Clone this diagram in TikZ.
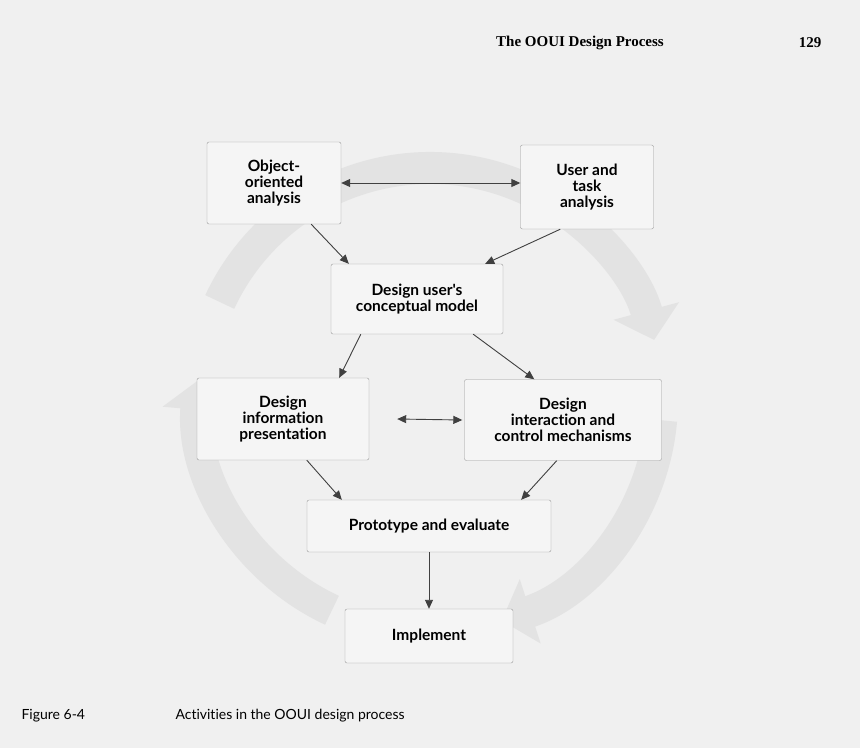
\documentclass[tikz,border=0pt]{standalone}
\usepackage{fontspec}
\setmainfont{Liberation Serif}
\newfontfamily\boxfont[Ligatures=NoCommon]{Lato}
\usetikzlibrary{arrows.meta}
\begin{document}
\begin{tikzpicture}[x=1pt,y=-1pt,
  box/.style={draw=black!40,fill=white!96!black,rounded corners=2pt,align=center,
    font=\boxfont\bfseries\fontsize{15.5}{16}\selectfont,inner sep=0pt},
  conn/.style={draw=black!75,line width=0.9pt,-{Triangle[length=9pt,width=8pt]}},
  both/.style={draw=black!75,line width=0.9pt,{Triangle[length=9pt,width=8pt]}-{Triangle[length=9pt,width=8pt]}},
  ring/.style={draw=black!11,line width=32pt,-{Triangle[length=30pt,width=66pt]}}]
\useasboundingbox (0,0) rectangle (860,748);
\fill[black!6] (0,0) rectangle (860,748);
% background ring arrows (center 430,400; r 232), clockwise
\draw[ring] (430,400) ++(-155:232) arc[start angle=-155,end angle=-15,radius=232];
\draw[ring] (430,400) ++(5:232) arc[start angle=5,end angle=72,radius=232];
\draw[ring] (430,400) ++(115:232) arc[start angle=115,end angle=185,radius=232];
% header
\node[font=\bfseries\fontsize{15}{16}\selectfont] (hd) at (580,43) {The OOUI Design Process};
\node[font=\bfseries\fontsize{15}{16}\selectfont] (pg) at (810,43) {129};
% boxes
\node[box,minimum width=134,minimum height=82] (ooa) at (274,183) {Object-\\oriented\\analysis};
\node[box,minimum width=133,minimum height=84] (uta) at (587,187) {User and\\task\\analysis};
\node[box,minimum width=172,minimum height=70] (ucm) at (417,299) {Design user's\\conceptual model};
\node[box,minimum width=172,minimum height=82] (dip) at (283,419) {Design\\information\\presentation};
\node[box,minimum width=197,minimum height=81] (dic) at (563,420) {Design\\interaction and\\control mechanisms};
\node[box,minimum width=244,minimum height=52] (pro) at (429,526) {Prototype and evaluate};
\node[box,minimum width=168,minimum height=54] (imp) at (429,636) {Implement};
% connectors
\draw[both] (ooa.east) -- (uta.west |- ooa.east);
\draw[conn] ([xshift=-30pt]ooa.south east) -- ([xshift=18pt]ucm.north west);
\draw[conn] ([xshift=40pt]uta.south west) -- ([xshift=-18pt]ucm.north east);
\draw[conn] ([xshift=30pt]ucm.south west) -- ([xshift=-30pt]dip.north east);
\draw[conn] ([xshift=-30pt]ucm.south east) -- ([xshift=70pt]dic.north west);
\draw[both] ([xshift=28pt]dip.east) -- ([xshift=-2pt]dic.west);
\draw[conn] ([xshift=110pt]dip.south west) -- ([xshift=35pt]pro.north west);
\draw[conn] ([xshift=-105pt]dic.south east) -- ([xshift=-30pt]pro.north east);
\draw[conn] (pro.south) -- (imp.north);
% caption
\node[anchor=west,font=\boxfont\fontsize{14}{15}\selectfont] (fig) at (18,716) {Figure 6-4};
\node[anchor=west,font=\boxfont\fontsize{14}{15}\selectfont] (cap) at (172,716) {Activities in the OOUI design process};
\end{tikzpicture}
\end{document}
